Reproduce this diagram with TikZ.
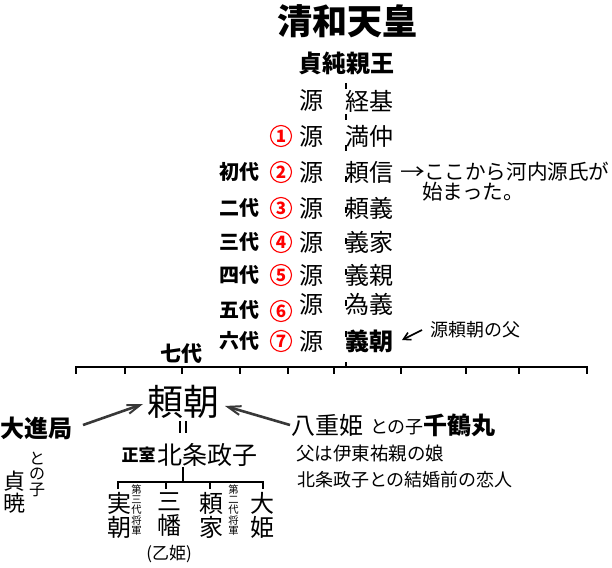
\documentclass[tikz,border=0pt]{standalone}
\usepackage{fontspec}
\setmainfont{Noto Sans CJK JP}
\usetikzlibrary{arrows.meta}
\tikzset{
  sz/.style={inner sep=0pt, outer sep=0pt, font=\fontsize{#1}{#1}\selectfont},
  bsz/.style={inner sep=0pt, outer sep=0pt, font=\bfseries\fontsize{#1}{#1}\selectfont},
  vsz/.style={inner sep=0pt, outer sep=0pt, align=center, font=\fontsize{#1}{#1}\selectfont},
  num/.style={circle, draw=red, line width=1.1pt, minimum size=21pt, inner sep=0pt,
    text=red, font=\bfseries\fontsize{17}{17}\selectfont},
  bar/.style={line width=2pt, line cap=rect},
  tick/.style={line width=2pt},
  tree/.style={line width=1.6pt},
  bigarrow/.style={line width=2.6pt, draw=black!78, -{Straight Barb[length=13pt,width=9pt,line width=2pt]}},
  smallarrow/.style={line width=1.6pt, -{Straight Barb[length=7pt,width=8pt,line width=1.6pt]}},
}
\begin{document}
\begin{tikzpicture}[x=1pt,y=-1pt]
\fill[white] (0,0) rectangle (612,567);
\useasboundingbox (0,0) rectangle (612,567);

% title
\node[bsz=35] (seiwa) at (347,21) {清和天皇};
\node[bsz=24] (sadazumi) at (346.5,63) {貞純親王};

% dashed lineage line
\coordinate (dtop) at (346,83);
\coordinate (dbot) at (346,367);
\draw[line width=1.7pt, dash pattern=on 6pt off 25pt] (dtop) -- (dbot);

% genji column
\node[sz=24] (g0) at (311,101) {源};
\node[sz=24] (g1) at (311,136) {源};
\node[sz=24] (g2) at (311,172) {源};
\node[sz=24] (g3) at (311,208) {源};
\node[sz=24] (g4) at (311,242) {源};
\node[sz=24] (g5) at (311,275) {源};
\node[sz=24] (g6) at (311,304) {源};
\node[sz=24] (g7) at (311,341) {源};

% given names
\node[sz=24, anchor=west] (n0) at (345,101) {経基};
\node[sz=24, anchor=west] (n1) at (345,136) {満仲};
\node[sz=24, anchor=west] (n2) at (345,172) {頼信};
\node[sz=24, anchor=west] (n3) at (345,208) {頼義};
\node[sz=24, anchor=west] (n4) at (345,242) {義家};
\node[sz=24, anchor=west] (n5) at (345,275) {義親};
\node[sz=24, anchor=west] (n6) at (345,304) {為義};
\node[bsz=24, anchor=west] (n7) at (345,341) {義朝};

% circled numbers
\node[num] (c1) at (281,136) {1};
\node[num] (c2) at (281,172) {2};
\node[num] (c3) at (281,208) {3};
\node[num] (c4) at (281,242) {4};
\node[num] (c5) at (281,275) {5};
\node[num] (c6) at (281,311) {6};
\node[num] (c7) at (281,341) {7};

% generation labels
\node[bsz=20, anchor=east] (d1) at (259,172) {初代};
\node[bsz=20, anchor=east] (d2) at (259,208) {二代};
\node[bsz=20, anchor=east] (d3) at (259,242) {三代};
\node[bsz=20, anchor=east] (d4) at (259,275) {四代};
\node[bsz=20, anchor=east] (d5) at (259,310) {五代};
\node[bsz=20, anchor=east] (d6) at (259,341) {六代};

% notes
\node[sz=20.6, anchor=west] (note1) at (402,172) {\makebox[22pt][c]{\scalebox{1.2}[1]{→}}ここから河内源氏が};
\node[sz=20.6, anchor=west] (note2) at (422,192) {始まった。};
\node[sz=18, anchor=west] (note3) at (430,330) {源頼朝の父};
\coordinate (a3tail) at (422,330);
\coordinate (a3tip) at (402,340);
\draw[smallarrow] (a3tail) -- (a3tip);

% sons bar
\coordinate (b0) at (76,367);
\coordinate (b9) at (587,367);
\draw[bar] (b0) -- (b9);
\foreach \xx in {76,125,182,240,288,334,401,466,519,587}
  \draw[tick] (\xx,367) -- (\xx,374);

\node[bsz=21] (nanadai) at (181,354) {七代};
\node[sz=36] (yoritomo) at (183,402) {頼朝};

% marriage sign
\draw[line width=1.4pt] (180,421) -- (180,433) (186,421) -- (186,433);

\node[bsz=17] (seishitsu) at (138.5,455) {正室};
\node[sz=25] (masako) at (207.5,455) {北条政子};

% left side
\node[bsz=24] (daishin) at (37,428) {大進局};
\node[vsz=16] (tonoko1) at (37,474) {と\\[-1pt]の\\[0pt]子};
\node[vsz=22] (jogyo) at (15,492.5) {貞\\暁};
\draw[bigarrow] (daishin.east) ++(10,-3) coordinate (a1tail) -- (143,404) coordinate (a1tip);

% right side
\node[sz=24] (yaehime) at (327.5,425) {八重姫};
\node[sz=18] (tonoko2) at (397,427) {との子};
\node[bsz=24] (senzuru) at (459.5,425) {千鶴丸};
\node[sz=18.5, anchor=west] (chichi) at (296,453) {父は伊東祐親の娘};
\node[sz=18, anchor=west] (koibito) at (297,480) {北条政子との結婚前の恋人};
\coordinate (a2tail) at (290,425);
\coordinate (a2tip) at (225,406);
\draw[bigarrow] (a2tail) -- (a2tip);

% children tree
\coordinate (tr0) at (183,467);
\coordinate (tr1) at (183,482);
\draw[tree] (tr0) -- (tr1);
\draw[tree] (118,489) -- (118,482) -- (263,482) -- (263,489);
\draw[tree] (166,482) -- (166,489);
\draw[tree] (210,482) -- (210,489);

\node[vsz=24] (sanetomo) at (119,515) {実\\朝};
\node[vsz=10.3] (sho3) at (136.5,510) {第\\三\\代\\将\\軍};
\node[vsz=24] (sanman) at (169,515) {三\\幡};
\node[sz=17] (otohime) at (169,554) {(乙姫)};
\node[vsz=24] (yoriie) at (211,515) {頼\\家};
\node[vsz=10.3] (sho2) at (233.5,510) {第\\二\\代\\将\\軍};
\node[vsz=24] (ohime) at (262,515) {大\\姫};
\end{tikzpicture}
\end{document}
